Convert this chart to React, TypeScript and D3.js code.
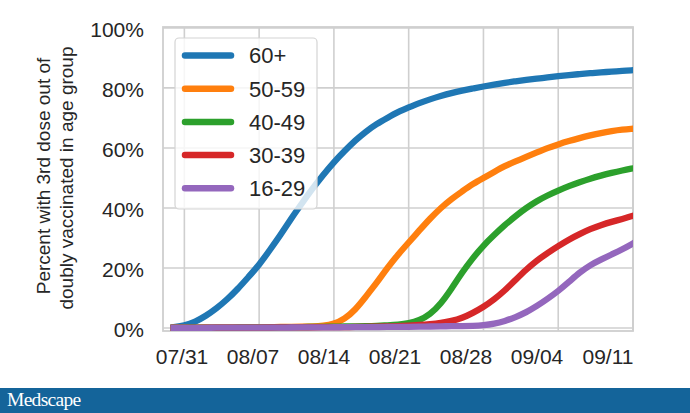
import React from 'react';
import * as d3 from 'd3';

// daily values from 07/30 to 09/11, percent of doubly vaccinated with a 3rd dose
const startDate = new Date(2021, 6, 30);
const groups = ['60+', '50-59', '40-49', '30-39', '16-29'];
const colors = ['#1f77b4', '#ff7f0e', '#2ca02c', '#d62728', '#9467bd'];

const age60plus = [0.3, 0.8, 2, 4, 6.5, 9.5, 13, 17, 21, 26, 31, 36.5, 41.5, 46.5, 51, 55.3, 59, 62.5, 65.5, 68, 70, 72, 73.5, 75, 76.2, 77.3, 78.3, 79.1, 79.8, 80.5, 81.1, 81.7, 82.2, 82.7, 83.1, 83.5, 83.9, 84.3, 84.6, 84.9, 85.2, 85.4, 85.7, 85.9];
const age50to59 = [0.1, 0.1, 0.1, 0.15, 0.15, 0.2, 0.2, 0.25, 0.3, 0.3, 0.35, 0.4, 0.45, 0.5, 0.7, 1.3, 3, 6, 10.5, 15, 20, 24.5, 28.5, 32.5, 36.5, 40, 43, 45.5, 48, 50, 52, 54, 55.5, 57, 58.5, 60, 61.2, 62.3, 63.3, 64.2, 65, 65.6, 66.1, 66.4];
const age40to49 = [0.05, 0.05, 0.1, 0.1, 0.1, 0.15, 0.15, 0.2, 0.2, 0.25, 0.25, 0.3, 0.3, 0.35, 0.4, 0.45, 0.5, 0.55, 0.6, 0.7, 0.9, 1.1, 1.5, 2.5, 4.5, 8, 13, 18.5, 23.3, 27.5, 31, 34.3, 37.3, 40, 42.3, 44.2, 45.8, 47.3, 48.6, 49.8, 50.8, 51.7, 52.5, 53.2];
const age30to39 = [0.05, 0.05, 0.05, 0.1, 0.1, 0.1, 0.1, 0.15, 0.15, 0.15, 0.2, 0.2, 0.2, 0.25, 0.25, 0.3, 0.3, 0.35, 0.4, 0.45, 0.5, 0.6, 0.8, 1, 1.3, 1.7, 2.3, 3.3, 5, 7, 9.5, 12.5, 16, 19.5, 22.5, 25, 27.3, 29.5, 31.3, 33, 34.3, 35.4, 36.3, 37.4];
const age16to29 = [0.05, 0.05, 0.05, 0.05, 0.1, 0.1, 0.1, 0.1, 0.1, 0.15, 0.15, 0.15, 0.2, 0.2, 0.2, 0.25, 0.25, 0.3, 0.3, 0.3, 0.35, 0.35, 0.4, 0.45, 0.5, 0.55, 0.6, 0.65, 0.7, 0.9, 1.4, 2.3, 3.6, 5.2, 7.3, 9.7, 12.3, 15.3, 18.5, 21, 22.8, 24.5, 26.2, 28.2];

const seriesValues = [age60plus, age50to59, age40to49, age30to39, age16to29];
const xTickLabels = ['07/31', '08/07', '08/14', '08/21', '08/28', '09/04', '09/11'];
const yTicks = [0, 20, 40, 60, 80, 100];

const FONT = '"Liberation Sans", Arial, Helvetica, sans-serif';

export default function App() {
  const width = 690;
  const height = 413;
  const left = 163;
  const right = 633;
  const top = 27;
  const bottom = 331;

  const dayMs = 24 * 3600 * 1000;
  const dates = age60plus.map((_, i) => new Date(startDate.getTime() + i * dayMs));
  const tickDates = xTickLabels.map((_, i) => new Date(2021, 6, 31 + i * 7));

  const x = d3.scaleTime()
    .domain([new Date(2021, 6, 29), new Date(2021, 8, 11)])
    .range([left, right]);
  const y = d3.scaleLinear().domain([-1, 100.3]).range([bottom, top]);

  // tick labels were re-set slightly narrower than the gridlines
  const labelX = d3.scalePoint<string>().domain(xTickLabels).range([182, 608]);

  const line = d3.line<number>()
    .x((_, i) => x(dates[i]))
    .y(d => y(d))
    .curve(d3.curveBasis);

  const gridColor = '#cfcfcf';

  return (
    <svg width={width} height={height} style={{ position: 'absolute', left: 0, top: 0, background: '#fff' }}>
      <defs>
        <clipPath id="plotClip">
          <rect x={left} y={top} width={right - left} height={bottom - top} />
        </clipPath>
      </defs>

      {/* grid */}
      <g>
        {tickDates.map((d, i) => (
          <line key={'gx' + i} x1={x(d)} x2={x(d)} y1={top} y2={bottom} stroke={gridColor} strokeWidth={1.6} />
        ))}
        {yTicks.map(t => (
          <line key={'gy' + t} x1={left} x2={right} y1={y(t)} y2={y(t)} stroke={gridColor} strokeWidth={1.6} />
        ))}
        <rect x={left} y={top} width={right - left} height={bottom - top} fill="none" stroke={gridColor} strokeWidth={1.8} />
      </g>

      {/* lines */}
      <g clipPath="url(#plotClip)">
        {seriesValues.map((vals, i) => (
          <path key={groups[i]} d={line(vals) || ''} fill="none" stroke={colors[i]} strokeWidth={6.3}
            strokeLinecap="square" strokeLinejoin="round" />
        ))}
      </g>

      {/* y ticks */}
      <g fontFamily={FONT} fontSize={21} fill="#262626" textAnchor="end">
        {yTicks.map(t => (
          <text key={t} x={144} y={y(t) + 1.5} dy="0.35em">{t}%</text>
        ))}
      </g>

      {/* x ticks */}
      <g fontFamily={FONT} fontSize={21} fill="#262626" textAnchor="middle">
        {xTickLabels.map(l => (
          <text key={l} x={labelX(l)} y={364}>{l}</text>
        ))}
      </g>

      {/* y title */}
      <g fontFamily={FONT} fontSize={19} fill="#262626" textAnchor="middle">
        <text transform="translate(50,176) rotate(-90)">Percent with 3rd dose out of</text>
        <text transform="translate(73,178) rotate(-90)">doubly vaccinated in age group</text>
      </g>

      {/* legend */}
      <g>
        <rect x={175} y={38} width={142} height={171} rx={4} fill="#fff" fillOpacity={0.8} stroke="#d4d4d4" strokeWidth={1.2} />
        {groups.map((g, i) => (
          <g key={g} transform={`translate(0,${55.5 + i * 33.2})`}>
            <line x1={185} x2={231} y1={0} y2={0} stroke={colors[i]} strokeWidth={6.5} strokeLinecap="round" />
            <text x={249} y={0} dy="0.36em" fontFamily={FONT} fontSize={22} fill="#262626">{g}</text>
          </g>
        ))}
      </g>

      {/* banner */}
      <rect x={0} y={388} width={width} height={25} fill="#14649a" />
      <text x={7} y={405.5} fontFamily='"Liberation Serif", "DejaVu Serif", serif' fontSize={19.5} fill="#fff" letterSpacing={-0.7}>Medscape</text>
    </svg>
  );
}
